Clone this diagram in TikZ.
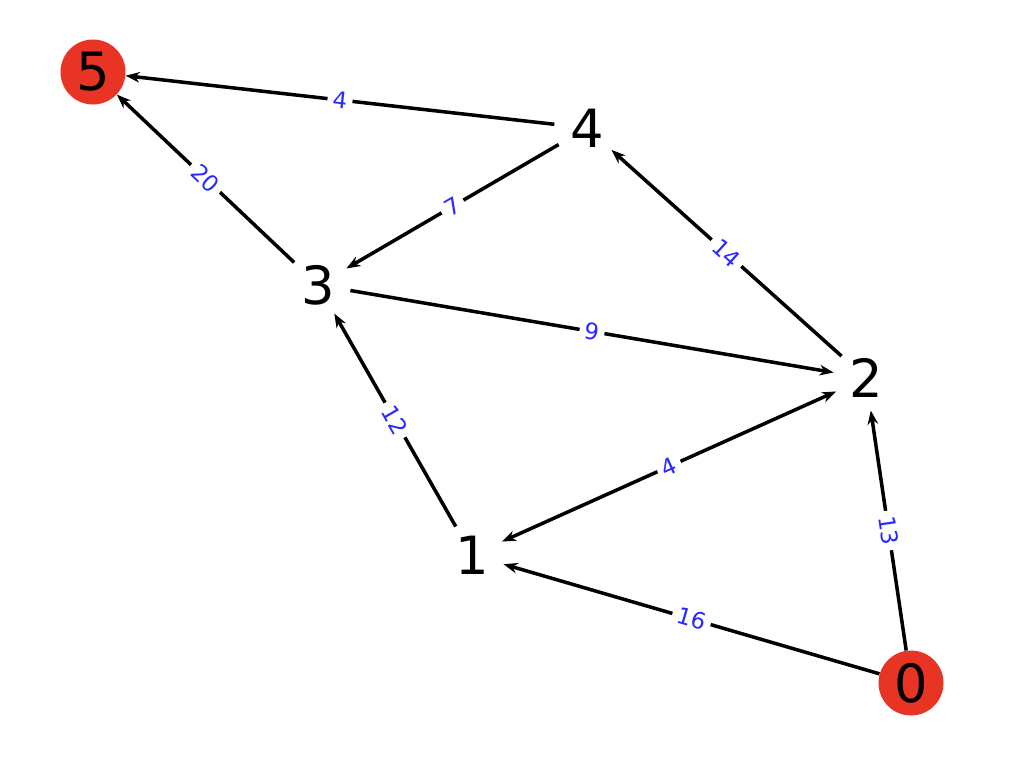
\documentclass[tikz,border=0pt]{standalone}
\usepackage{fontspec}
\setmainfont{DejaVu Sans}
\usetikzlibrary{arrows.meta}
\begin{document}
\begin{tikzpicture}[x=0.02cm,y=-0.02cm,
  vert/.style={circle,minimum size=1.3cm,inner sep=0pt,font=\fontsize{30}{30}\selectfont},
  red/.style={fill={rgb,255:red,232;green,52;blue,36}},
  edge/.style={line width=2pt,-{Stealth[length=8pt,width=6pt]}},
  wt/.style={midway,sloped,fill=white,inner sep=3pt,text={rgb,255:red,40;green,40;blue,255},font=\fontsize{13}{13}\selectfont}]
\useasboundingbox (0,0) rectangle (1030,762);
\node[vert,red] (n5) at (93,72) {5};
\node[vert] (n4) at (587,128) {4};
\node[vert] (n3) at (318,285) {3};
\node[vert] (n2) at (866,378) {2};
\node[vert] (n1) at (472,555) {1};
\node[vert,red] (n0) at (911,683) {0};
\draw[edge] (n4) -- (n5) node[wt]{4};
\draw[edge] (n3) -- (n5) node[wt]{20};
\draw[edge] (n4) -- (n3) node[wt]{7};
\draw[edge] (n2) -- (n4) node[wt]{14};
\draw[edge] (n3) -- (n2) node[wt]{9};
\draw[edge] (n1) -- (n3) node[wt]{12};
\draw[edge,{Stealth[length=8pt,width=6pt]}-{Stealth[length=8pt,width=6pt]}] (n1) -- (n2) node[wt]{4};
\draw[edge] (n0) -- (n1) node[wt]{16};
\draw[edge] (n0) -- (n2) node[wt]{13};
\end{tikzpicture}
\end{document}
